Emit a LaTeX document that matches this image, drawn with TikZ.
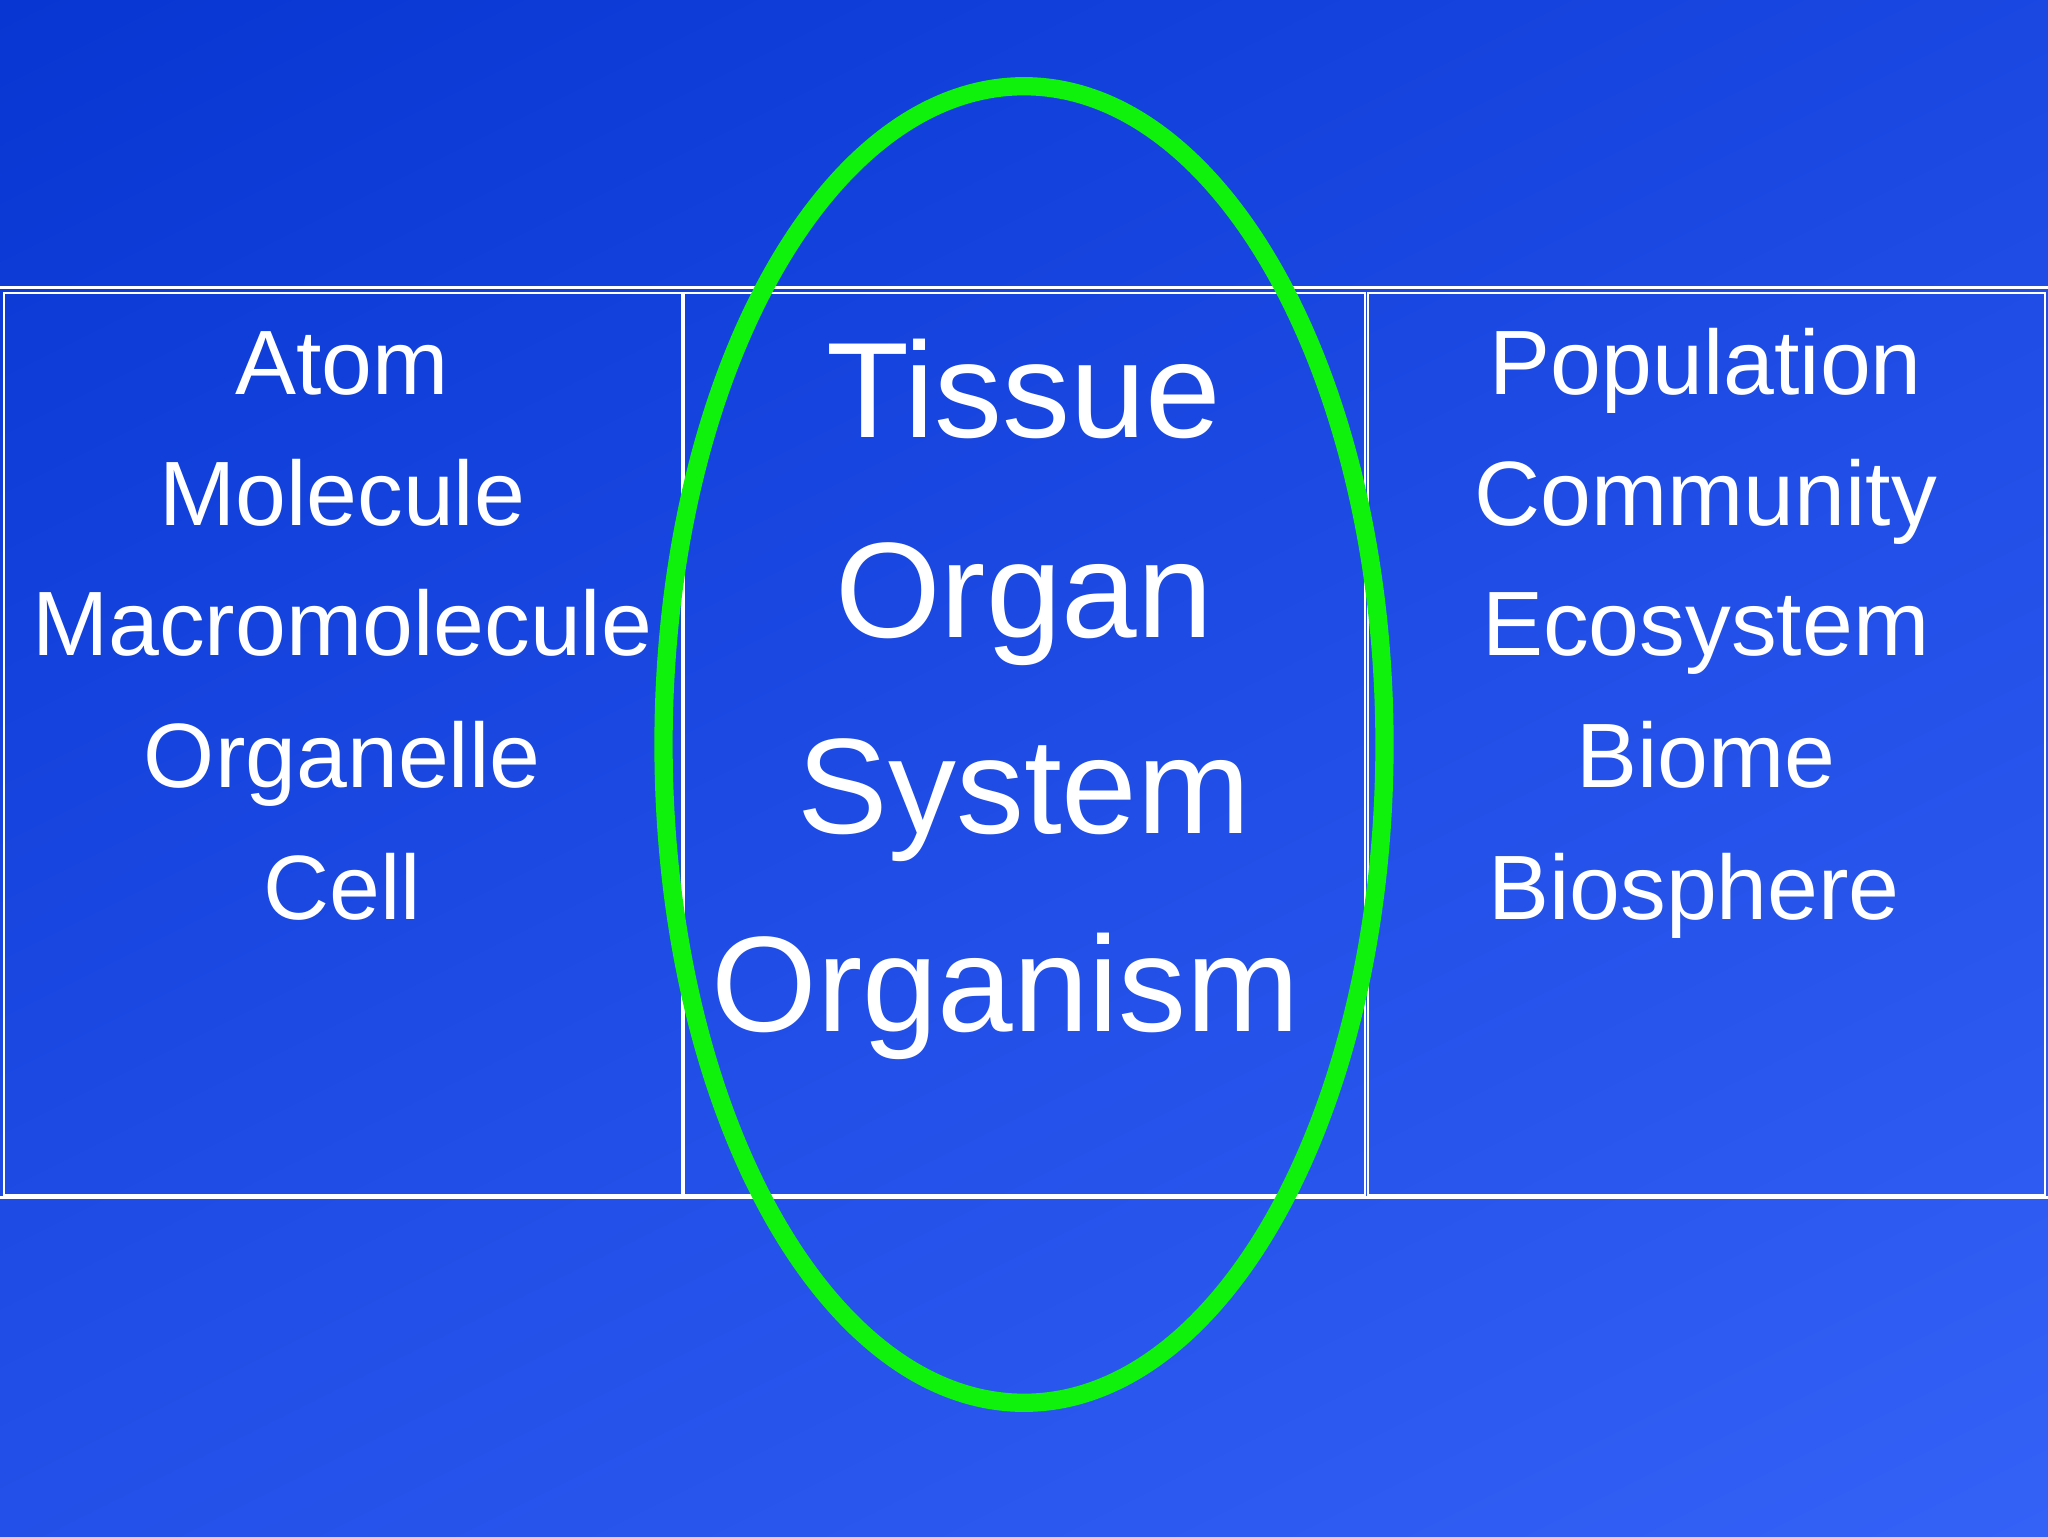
\documentclass[tikz,border=0pt]{standalone}
\usepackage{fontspec}
\usetikzlibrary{shadings}
\setmainfont{Liberation Sans}
\definecolor{bgdark}{HTML}{0836D2}
\definecolor{bglight}{HTML}{3462F7}
\definecolor{ringgreen}{HTML}{0EF20C}
\begin{document}
\begin{tikzpicture}[x=1pt,y=-1pt,
  small/.style={text=white,font=\fontsize{70}{70}\selectfont,anchor=base},
  big/.style={text=white,font=\fontsize{104}{104}\selectfont,anchor=base},
  rule/.style={draw=white,line width=2.5pt}]
\useasboundingbox (0,0) rectangle (1568,1176);
\shade[upper left=bgdark,lower right=bglight,upper right=bgdark!60!bglight,lower left=bgdark!40!bglight] (0,0) rectangle (1568,1176);
\draw[rule] (0,220) -- (1568,220);
\draw[rule] (0,917) -- (1568,917);
\draw[draw=white,line width=1.5pt] (3,224) rectangle (522,915);
\draw[draw=white,line width=1.5pt] (524,224) rectangle (1045,915);
\draw[draw=white,line width=1.5pt] (1047,224) rectangle (1566,915);
\coordinate (ringc) at (784,570);
\draw[ringgreen,line width=14pt] (ringc) ellipse [x radius=276,y radius=504];
\node[small] (a1) at (262,302) {Atom};
\node[small] (a2) at (262,402) {Molecule};
\node[small] (a3) at (262,502) {Macromolecule};
\node[small] (a4) at (262,603) {Organelle};
\node[small] (a5) at (262,704) {Cell};
\node[big] (b1) at (784,335) {Tissue};
\node[big] (b2) at (784,488) {Organ};
\node[big] (b3) at (784,638) {System};
\node[big] (b4) at (770,790) {Organism};
\node[small] (c1) at (1306,302) {Population};
\node[small] (c2) at (1306,402) {Community};
\node[small] (c3) at (1306,502) {Ecosystem};
\node[small] (c4) at (1306,603) {Biome};
\node[small] (c5) at (1297,704) {Biosphere};
\end{tikzpicture}
\end{document}
